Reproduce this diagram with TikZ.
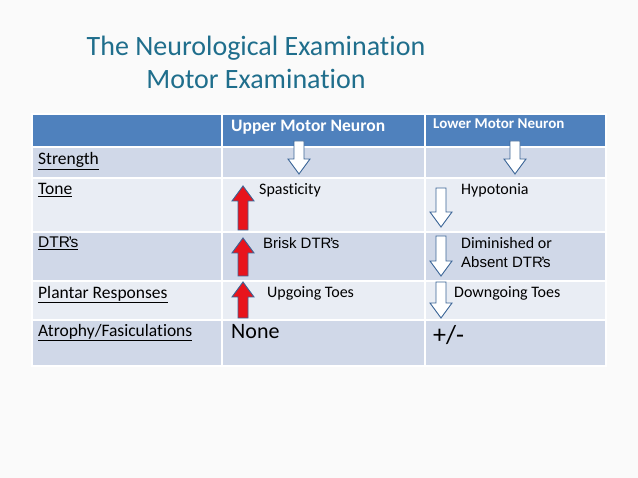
\documentclass[tikz,border=0pt]{standalone}
\usepackage{fontspec}
\setmainfont{Carlito}[Ligatures=NoCommon]
\newfontfamily\arialf{Liberation Sans}
\newcommand{\uline}[1]{\underline{#1}}
\definecolor{hdr}{HTML}{4F81BD}
\definecolor{rowa}{HTML}{D0D8E8}
\definecolor{rowb}{HTML}{E9EDF4}
\definecolor{ttl}{HTML}{1F6E8C}
\definecolor{arrred}{HTML}{E8141C}
\definecolor{arrblue}{HTML}{3A6496}
\tikzset{
  lbl/.style={anchor=north west,inner sep=0pt,font=\fontsize{17.5}{20}\selectfont},
  hd/.style={anchor=north west,inner sep=0pt,text=white,font=\bfseries\fontsize{17.5}{20}\selectfont},
  cell/.style={draw=white,line width=1.5pt},
}
\newcommand{\dnarrow}[3]{% x, top, bottom
  \draw[arrblue,fill=white,line width=0.9pt] ({#1-5},#2) -- ({#1+5},#2) -- ({#1+5},{#3-15}) -- ({#1+11},{#3-15}) -- (#1,#3) -- ({#1-11},{#3-15}) -- ({#1-5},{#3-15}) -- cycle;}
\newcommand{\uparrowred}[3]{% x, top, bottom
  \draw[arrblue,fill=arrred,line width=0.9pt] ({#1-5},#3) -- ({#1+5},#3) -- ({#1+5},{#2+15}) -- ({#1+11},{#2+15}) -- (#1,#2) -- ({#1-11},{#2+15}) -- ({#1-5},{#2+15}) -- cycle;}
\begin{document}
\begin{tikzpicture}[x=1pt,y=-1pt]
\fill[white!96!gray] (0,0) rectangle (638,478);
\useasboundingbox (0,0) rectangle (638,478);
\node[text=ttl,font=\fontsize{28}{33}\selectfont,align=center] (title) at (256,62) {The Neurological Examination\\Motor Examination};
% table
\fill[hdr,cell] (32,114) rectangle (606,147);
\foreach \ya/\yb/\c in {147/178/rowa,178/232/rowb,232/281/rowa,281/320/rowb,320/366/rowa}{
  \filldraw[fill=\c,cell] (32,\ya) rectangle (222,\yb);
  \filldraw[fill=\c,cell] (222,\ya) rectangle (425,\yb);
  \filldraw[fill=\c,cell] (425,\ya) rectangle (606,\yb);
}
\draw[white,line width=1.5pt] (222,114) -- (222,147) (425,114) -- (425,147);
\node[hd] (h1) at (231,120) {Upper Motor Neuron};
\node[hd,font=\bfseries\fontsize{15}{18}\selectfont] (h2) at (433,119) {Lower Motor Neuron};
\node[lbl] (r1) at (38,152) {\uline{Strength}};
\node[lbl] (r2) at (38,183) {\uline{Tone}};
\node[lbl,font=\arialf\fontsize{15.5}{18}\selectfont] (r3) at (38,237) {\uline{\hbox{DTR\kern-1.5pt’\kern-1.5pt s}}};
\node[lbl] (r4) at (38,286) {\uline{Plantar Responses}};
\node[lbl] (r5) at (38,324) {\uline{Atrophy/Fasiculations}};
\node[lbl,font=\fontsize{16}{18}\selectfont] (t1) at (259,183) {Spasticity};
\node[lbl,font=\fontsize{16}{18}\selectfont] (t2) at (461,183) {Hypotonia};
\node[lbl,font=\arialf\fontsize{15}{18}\selectfont] (d1) at (263,237) {Brisk DTR\kern-1.5pt’\kern-1.5pt s};
\node[lbl,font=\fontsize{16}{19}\selectfont,align=left] (d2) at (461,237) {Diminished or\\{\arialf\fontsize{15}{19}\selectfont Absent DTR\kern-1.5pt’\kern-1.5pt s}};
\node[lbl,font=\fontsize{16}{18}\selectfont] (p1) at (267,286) {Upgoing Toes};
\node[lbl,font=\fontsize{16}{18}\selectfont] (p2) at (454,286) {Downgoing Toes};
\node[lbl,font=\fontsize{22}{24}\selectfont] (a1) at (231,324) {None};
\node[lbl,font=\fontsize{26}{28}\selectfont] (a2) at (433,325) {+/-};
% arrows
\dnarrow{299}{141}{174}
\dnarrow{515}{141}{174}
\dnarrow{441}{188}{227}
\dnarrow{441}{236}{276}
\dnarrow{441}{282}{318}
\uparrowred{243}{186}{230}
\uparrowred{243}{238}{276}
\uparrowred{243}{282}{318}
\end{tikzpicture}
\end{document}
